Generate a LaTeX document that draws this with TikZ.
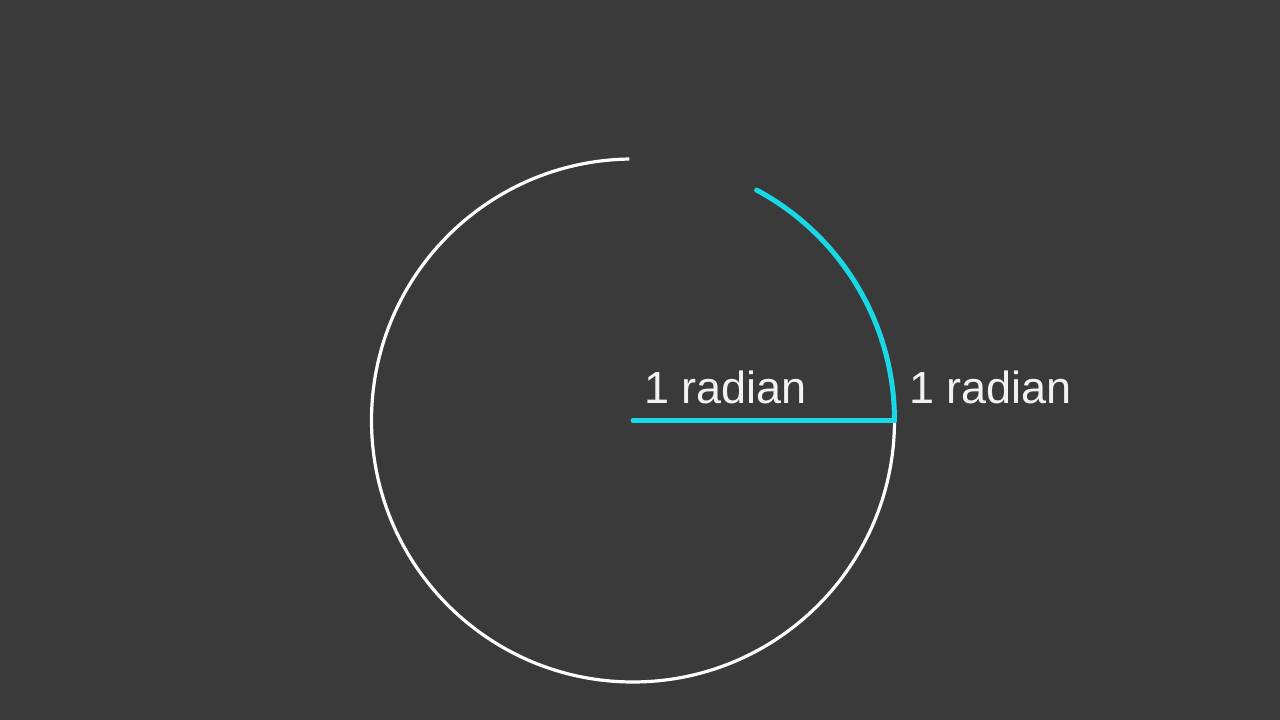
\documentclass[tikz,border=0pt]{standalone}
\usepackage{fontspec}
\setmainfont{Liberation Sans}
\usetikzlibrary{calc}
\definecolor{bg}{RGB}{58,58,58}
\definecolor{cyanarc}{RGB}{24,216,230}
\definecolor{txt}{RGB}{242,242,242}
\begin{document}
\begin{tikzpicture}[x=1pt,y=1pt,
  whitearc/.style={draw=white,line width=3.2pt},
  cyanline/.style={draw=cyanarc,line width=5pt,line cap=round},
  lbl/.style={text=txt,inner sep=0pt,anchor=base west,font=\fontsize{45}{49}\selectfont}]
\fill[bg] (0,0) rectangle (1280,720);
\useasboundingbox (0,0) rectangle (1280,720);
\coordinate (c) at (633,299.5);
\coordinate (e) at ($(c)+(261.5,0)$);
\draw[whitearc] (c) ++(90.8:261.5) arc[start angle=90.8,end angle=360,radius=261.5];
\draw[cyanline] (c) -- (e);
\draw[cyanline] (e) arc[start angle=0,end angle=61.8,radius=261.5];
\node[lbl] (l1) at (644,316) {1 radian};
\node[lbl] (l2) at (909,316) {1 radian};
\end{tikzpicture}
\end{document}
